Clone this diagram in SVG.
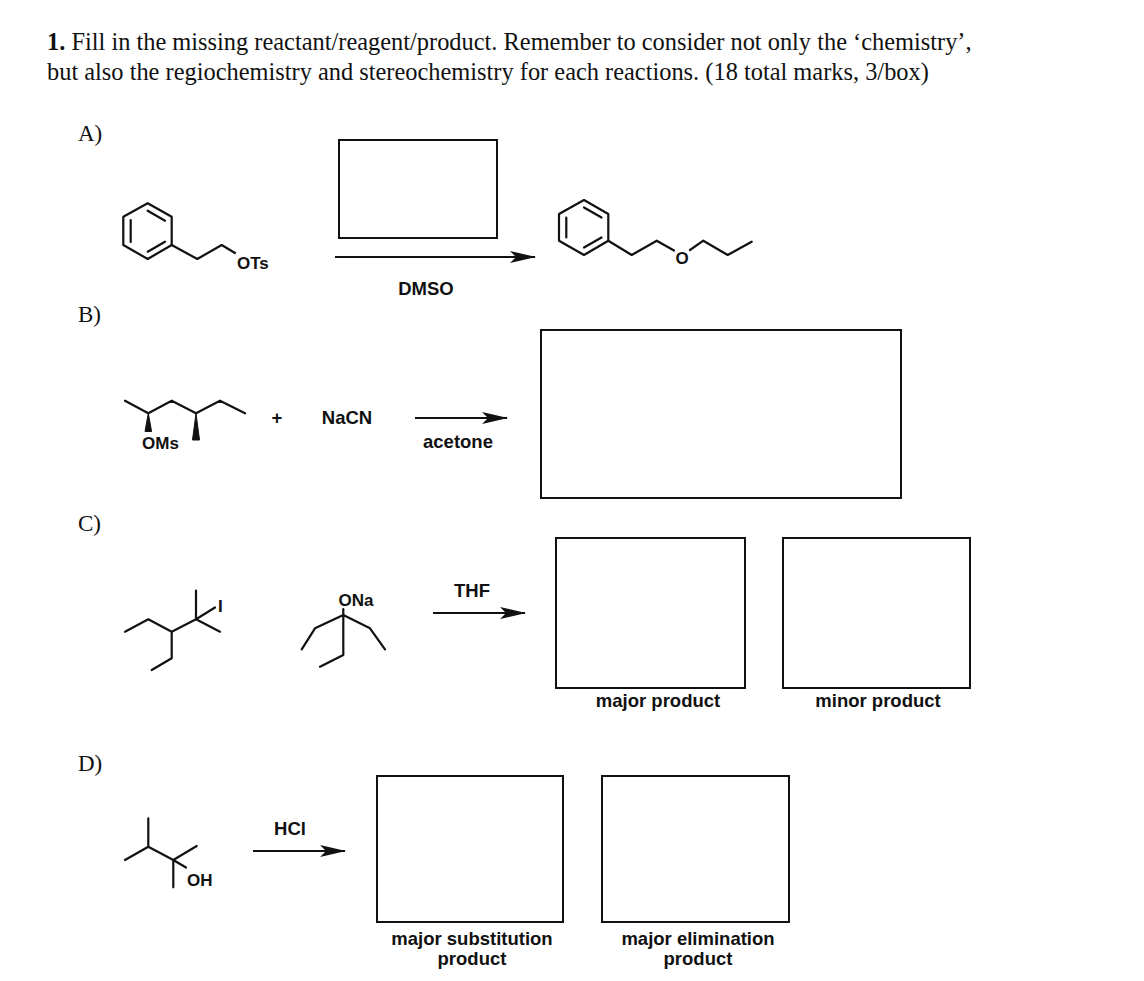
<svg xmlns="http://www.w3.org/2000/svg" width="1144" height="981" viewBox="0 0 1144 981">
<defs>
<style>
.b{fill:none;stroke:#111;stroke-width:2.2;stroke-linejoin:round;stroke-linecap:round}
.box{fill:none;stroke:#111;stroke-width:2}
.t{font-family:"Liberation Serif",serif;font-size:24.4px;fill:#111}
.s{font-family:"Liberation Serif",serif;font-size:23px;fill:#111}
.l{font-family:"Liberation Sans",Arial,sans-serif;font-size:18.5px;font-weight:bold;fill:#111}
.a{font-family:"Liberation Sans",Arial,sans-serif;font-size:17px;font-weight:bold;fill:#111}
.ar{stroke:#111;stroke-width:2.2;fill:none}
</style>
<marker id="ah" viewBox="0 0 26 12" refX="25" refY="6" markerWidth="26" markerHeight="12" markerUnits="userSpaceOnUse" orient="auto"><path d="M0,0 L26,6 L0,12 L6,6 Z" fill="#111"/></marker>
</defs>
<rect width="1144" height="981" fill="#fff"/>
<text class="t" x="47" y="50"><tspan font-weight="bold">1.</tspan> Fill in the missing reactant/reagent/product. Remember to consider not only the ‘chemistry’,</text>
<text class="t" x="47" y="80">but also the regiochemistry and stereochemistry for each reactions. (18 total marks, 3/box)</text>
<text class="s" x="78" y="141">A)</text>
<text class="s" x="78" y="322">B)</text>
<text class="s" x="78" y="531">C)</text>
<text class="s" x="78" y="771">D)</text>

<g id="A-reactant">
<path class="b" d="M147.7,203.3 L171.7,216.7 L171.7,245 L147.7,259 L123.3,245 L123.3,216.7 Z"/>
<path class="b" d="M130.7,220 L130.7,242 M147.7,210.7 L165,220.7 M147.7,251.7 L165,241.7"/>
<path class="b" d="M171.7,245 L197.3,259 L221.7,245 L235,253"/>
<text class="a" x="237" y="269">OTs</text>
</g>
<g id="A-box"><rect class="box" x="339" y="140" width="158" height="98"/></g>
<g id="A-product">
<path class="b" d="M584,200 L608.3,214 L608.3,240.7 L584,255 L559,240.7 L559,214 Z"/>
<path class="b" d="M566.3,217.5 L566.3,237.5 M584,207.5 L601.5,217.5 M584,247.5 L601.5,237.5"/>
<path class="b" d="M608.3,240.7 L631.7,255 L656.7,240.7 L674,250.5 M690,250 L703.3,240.7 L727.7,255 L751.7,241.7"/>
<text class="a" x="682" y="264" text-anchor="middle">O</text>
</g>
<text class="l" x="426" y="295" text-anchor="middle">DMSO</text>

<g id="B-reactant">
<path class="b" d="M125,400.7 L148.3,413.3 L171.7,400.7 L196,413.3 L220,400.7 L245,413.3"/>
<path d="M148.3,413.3 L145,431.5 L151.6,431.5 Z" fill="#111" stroke="#111" stroke-width="1"/>
<path d="M196,413.3 L192.5,440 L199.5,440 Z" fill="#111" stroke="#111" stroke-width="1"/>
<text class="a" x="142" y="449">OMs</text>
</g>
<text class="l" x="277" y="424" text-anchor="middle">+</text>
<text class="l" x="347" y="424" text-anchor="middle">NaCN</text>
<text class="l" x="458" y="448" text-anchor="middle">acetone</text>
<g id="B-box"><rect class="box" x="541" y="330" width="360" height="168"/></g>

<g id="C-reactant1">
<path class="b" d="M125,631.7 L148.3,619.3 L171.7,631.7 L171.7,658.3 L151.7,670 M171.7,631.7 L196,619.3 L196,590.7 M196,619.3 L220,631.7 M196,619.3 L215,607.5"/>
<text class="a" x="218" y="612">I</text>
</g>
<g id="C-reactant2">
<path class="b" d="M343.3,609 L343.3,655 L320,666.7 M343.3,615 L315,628.3 L301.7,649.3 M343.3,615 L370,628.3 L385,649.3"/>
<text class="a" x="356" y="606" text-anchor="middle">ONa</text>
</g>
<text class="l" x="472" y="597" text-anchor="middle">THF</text>
<g id="C-box1"><rect class="box" x="556" y="538" width="189" height="150"/></g>
<g id="C-box2"><rect class="box" x="783" y="538" width="187" height="150"/></g>
<text class="l" x="658" y="707" text-anchor="middle">major product</text>
<text class="l" x="878" y="707" text-anchor="middle">minor product</text>

<g id="D-reactant">
<path class="b" d="M148.3,818.3 L148.3,846.7 L125,860 M148.3,846.7 L173.3,860 L196.7,846 M173.3,860 L173.3,887.3 M173.3,860 L186,867.5"/>
<text class="a" x="187" y="886">OH</text>
</g>
<text class="l" x="290" y="835" text-anchor="middle">HCl</text>
<g id="D-box1"><rect class="box" x="377" y="776" width="186" height="146"/></g>
<g id="D-box2"><rect class="box" x="602" y="776" width="187" height="146"/></g>
<text class="l" x="472" y="945" text-anchor="middle">major substitution</text>
<text class="l" x="472" y="965" text-anchor="middle">product</text>
<text class="l" x="698" y="945" text-anchor="middle">major elimination</text>
<text class="l" x="698" y="965" text-anchor="middle">product</text>

<g id="connectors">
<line class="ar" x1="335" y1="257" x2="535" y2="257" marker-end="url(#ah)"/>
<line class="ar" x1="415" y1="418" x2="507" y2="418" marker-end="url(#ah)"/>
<line class="ar" x1="433" y1="613" x2="525" y2="613" marker-end="url(#ah)"/>
<line class="ar" x1="253" y1="851" x2="345" y2="851" marker-end="url(#ah)"/>
</g>
</svg>
